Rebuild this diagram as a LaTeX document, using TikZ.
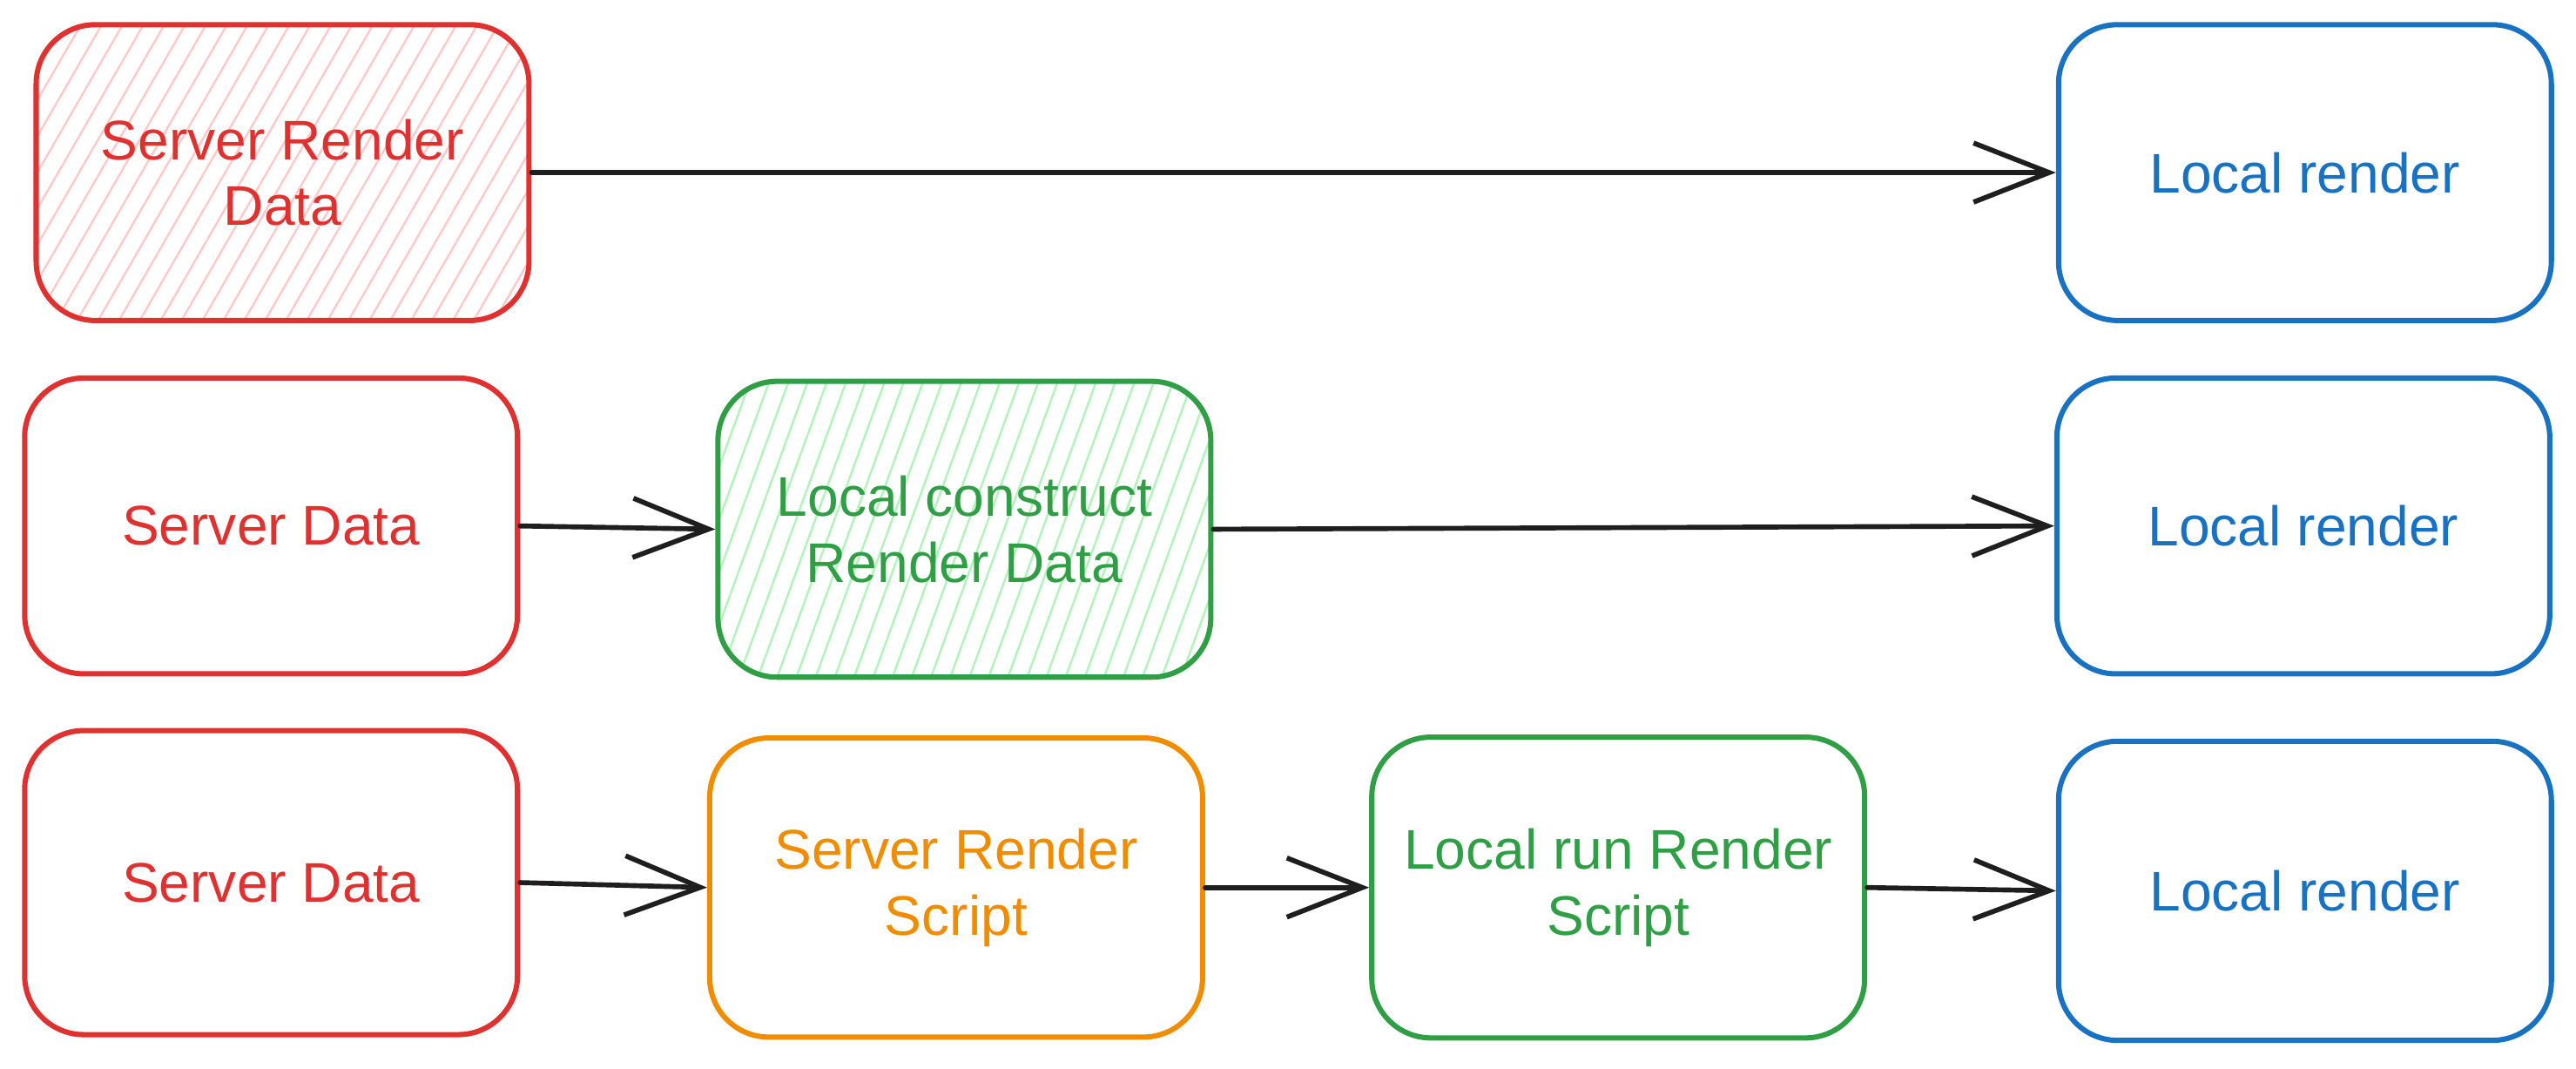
\documentclass[tikz,border=0pt]{standalone}
\usepackage{fontspec}
\setmainfont{Liberation Sans}
\usetikzlibrary{arrows.meta,patterns.meta}
\definecolor{cred}{HTML}{E03131}
\definecolor{cgreen}{HTML}{2F9E44}
\definecolor{corange}{HTML}{F08C00}
\definecolor{cblue}{HTML}{1971C2}
\definecolor{hred}{HTML}{FFC9C9}
\definecolor{hgreen}{HTML}{B2F2BB}
\definecolor{cink}{HTML}{1E1E1E}
\tikzset{
  box/.style={draw, line width=3.2pt, rounded corners=36pt, minimum width=300pt,
    minimum height=180pt, inner sep=0pt, align=center,
    font=\fontsize{34}{40}\selectfont},
  redbox/.style={box, draw=cred, text=cred},
  greenbox/.style={box, draw=cgreen, text=cgreen},
  orangebox/.style={box, draw=corange, text=corange},
  bluebox/.style={box, draw=cblue, text=cblue},
  redhatch/.style={preaction={pattern={Lines[angle=60,distance=11pt,line width=1.3pt]}, pattern color=hred}},
  greenhatch/.style={preaction={pattern={Lines[angle=70,distance=11pt,line width=1.3pt]}, pattern color=hgreen}},
  conn/.style={draw=cink, line width=3pt, line cap=round,
    -{Straight Barb[length=46pt,width=36pt,line width=3pt]}}
}
\begin{document}
\begin{tikzpicture}[x=1pt,y=-1pt]
\useasboundingbox (0,0) rectangle (1568,650.4);
% row 1
\node[redbox, redhatch] (A) at (172,105) {Server Render\\Data};
\node[bluebox] (B1) at (1403,105) {Local render};
% row 2
\node[redbox] (C) at (165,320) {Server Data};
\node[greenbox, greenhatch] (D) at (587,322) {Local construct\\Render Data};
\node[bluebox] (B2) at (1402,320) {Local render};
% row 3
\node[redbox, minimum height=185pt] (E) at (165,537) {Server Data};
\node[orangebox, minimum height=182pt] (F) at (582,540) {Server Render\\Script};
\node[greenbox, minimum height=183pt] (G) at (985,540) {Local run Render\\Script};
\node[bluebox, minimum height=182pt] (B3) at (1403,542) {Local render};
% connectors
\draw[conn] (A.east) -- (B1.west);
\draw[conn] (C.east) -- (D.west);
\draw[conn] (D.east) -- (B2.west);
\draw[conn] (E.east) -- (F.west);
\draw[conn] (F.east) -- (G.west);
\draw[conn] (G.east) -- (B3.west);
\end{tikzpicture}
\end{document}
